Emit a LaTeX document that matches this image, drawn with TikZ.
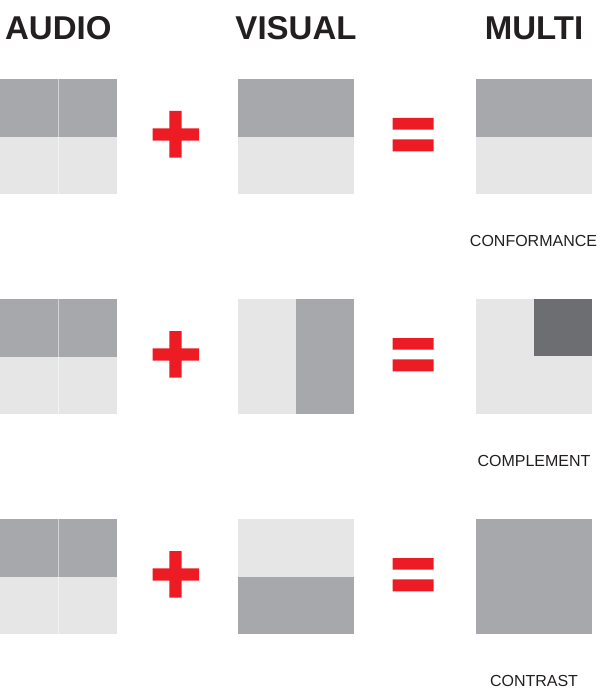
\documentclass[tikz,border=0pt]{standalone}
\usepackage{fontspec}
\setmainfont{Liberation Sans}
\definecolor{ink}{HTML}{231F20}
\definecolor{mid}{HTML}{A7A8AB}
\definecolor{pale}{HTML}{E6E6E6}
\definecolor{deep}{HTML}{6D6E71}
\definecolor{signred}{HTML}{ED1C24}
\tikzset{
  title/.style={anchor=base,text=ink,font=\bfseries\fontsize{33}{33}\selectfont,inner sep=0pt},
  kind/.style={anchor=base,text=ink,font=\fontsize{16}{16}\selectfont,inner sep=0pt},
  seam/.style={white,opacity=.5,line width=.8pt}
}
\begin{document}
\begin{tikzpicture}[x=1pt,y=-1pt]
  \useasboundingbox (0,0) rectangle (600,700);
  \draw
    (58.3,39.3) node[title] (audio){AUDIO}
    (296,39.3) node[title] (visual){VISUAL}
    (534,39.3) node[title] (multi){MULTI}
    (533.5,246.7) node[kind] (conf){CONFORMANCE}
    (534,466.7) node[kind] (comp){COMPLEMENT}
    (534,686.7) node[kind] (contr){CONTRAST};
  % row 1
  \begin{scope}[shift={(0,0)}]
    \fill[pale] (0,79) rectangle (116.7,194.3);
    \fill[mid] (0,79) rectangle (116.7,136.7);
    \draw[seam] (58.3,79) -- (58.3,194.3);
    \fill[signred] (152.7,128.3) rectangle (199,140.7) (169.3,111) rectangle (181.7,157.7);
    \fill[pale] (238,79) rectangle (354,194.3);
    \fill[mid] (238,79) rectangle (354,136.7);
    \fill[signred] (392.7,118) rectangle (433.7,129.7) (392.7,139.3) rectangle (433.7,151.3);
    \fill[pale] (475.7,79) rectangle (591.7,194.3);
    \fill[mid] (475.7,79) rectangle (591.7,136.7);
  \end{scope}
  % row 2
  \begin{scope}[shift={(0,220)}]
    \fill[pale] (0,79) rectangle (116.7,194.3);
    \fill[mid] (0,79) rectangle (116.7,136.7);
    \draw[seam] (58.3,79) -- (58.3,194.3);
    \fill[signred] (152.7,128.3) rectangle (199,140.7) (169.3,111) rectangle (181.7,157.7);
    \fill[pale] (238,79) rectangle (354,194.3);
    \fill[mid] (296,79) rectangle (354,194.3);
    \fill[signred] (392.7,118) rectangle (433.7,129.7) (392.7,139.3) rectangle (433.7,151.3);
    \fill[pale] (475.7,79) rectangle (591.7,194.3);
    \fill[deep] (533.7,79) rectangle (591.7,136.3);
  \end{scope}
  % row 3
  \begin{scope}[shift={(0,440)}]
    \fill[pale] (0,79) rectangle (116.7,194.3);
    \fill[mid] (0,79) rectangle (116.7,136.7);
    \draw[seam] (58.3,79) -- (58.3,194.3);
    \fill[signred] (152.7,128.3) rectangle (199,140.7) (169.3,111) rectangle (181.7,157.7);
    \fill[pale] (238,79) rectangle (354,194.3);
    \fill[mid] (238,136.7) rectangle (354,194.3);
    \fill[signred] (392.7,118) rectangle (433.7,129.7) (392.7,139.3) rectangle (433.7,151.3);
    \fill[mid] (475.7,79) rectangle (591.7,194.3);
  \end{scope}
\end{tikzpicture}
\end{document}
